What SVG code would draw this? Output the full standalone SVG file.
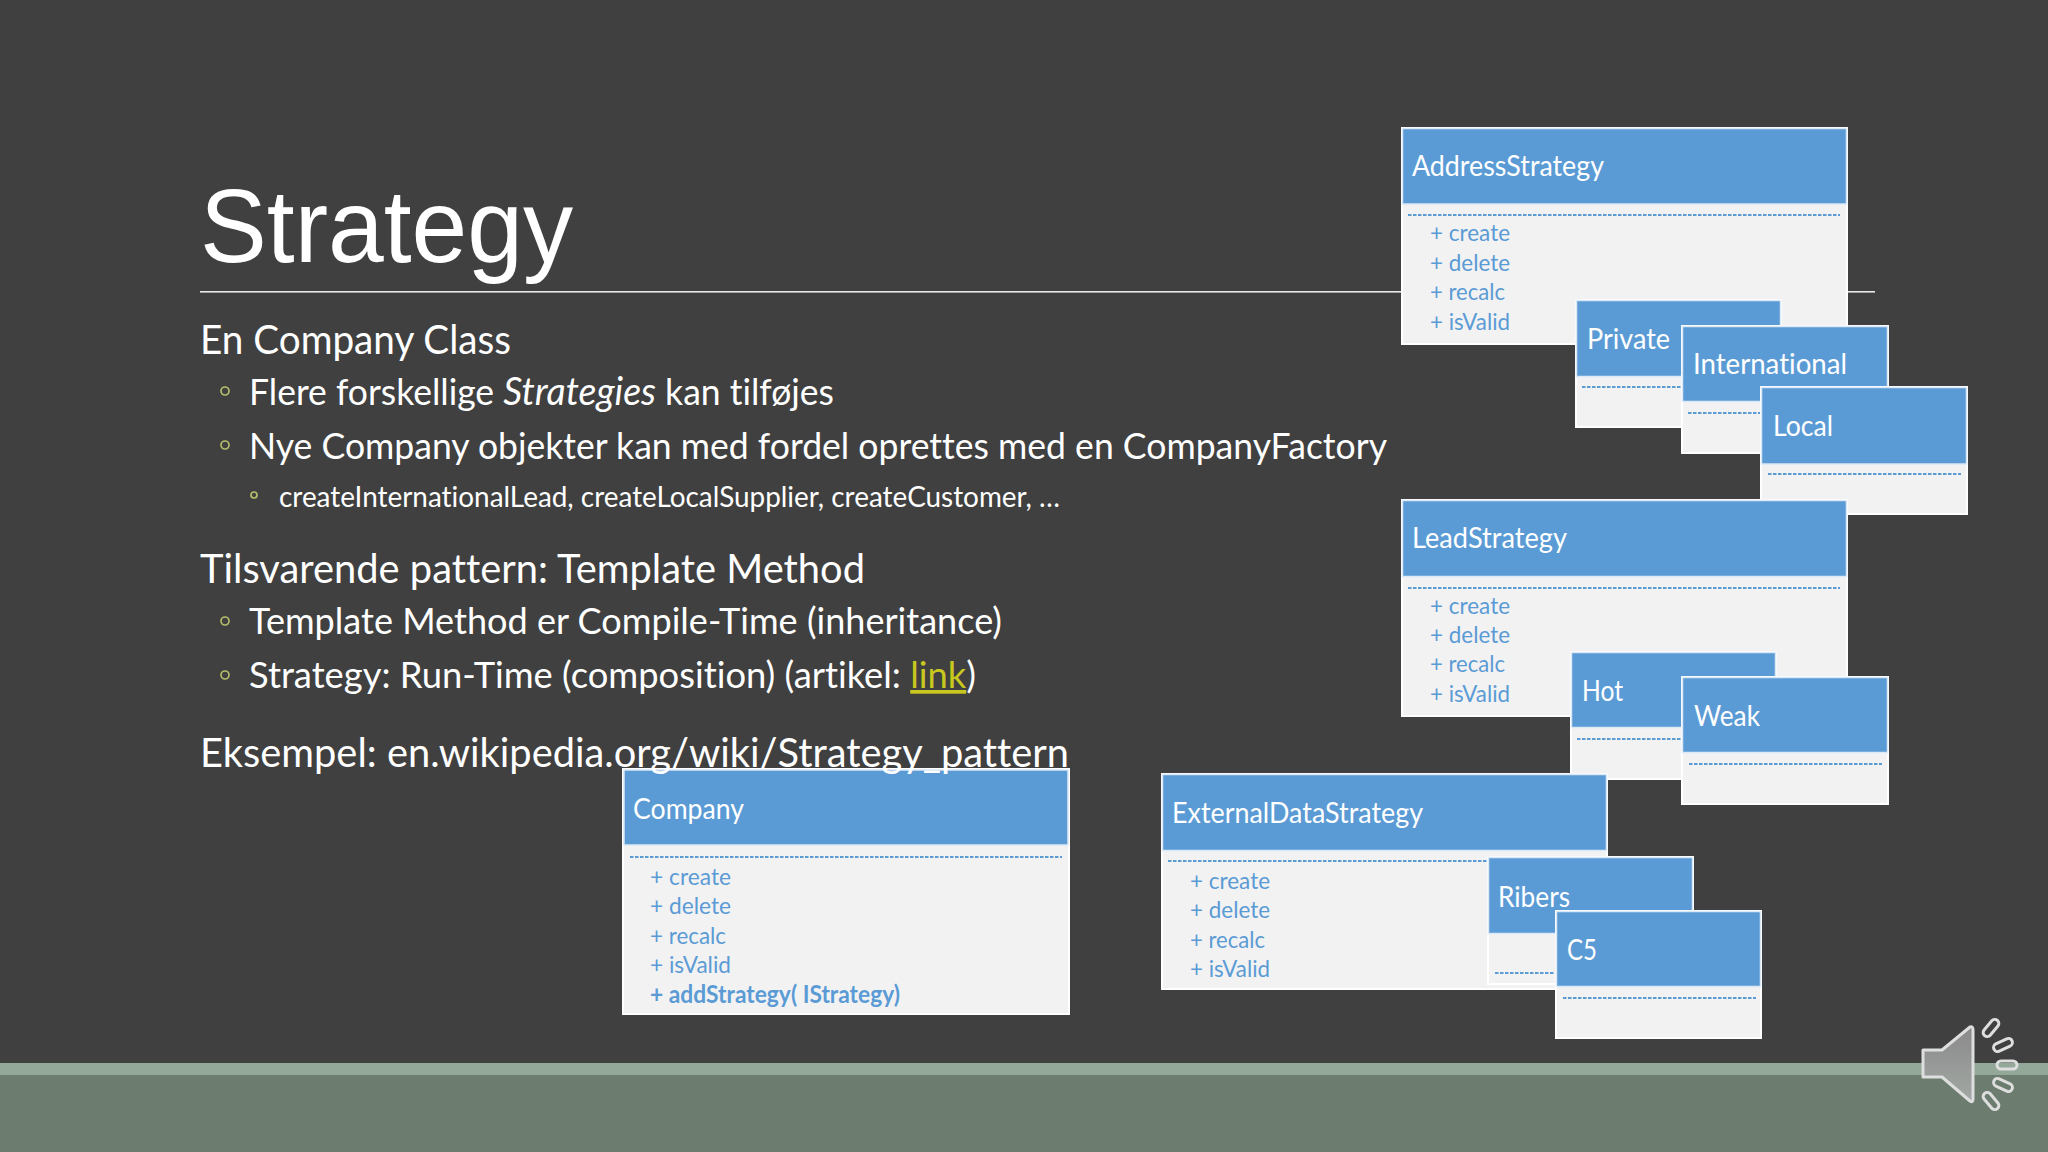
<svg xmlns="http://www.w3.org/2000/svg" width="2048" height="1152" viewBox="0 0 2048 1152">
<style>
text{font-family:Lato,Carlito,"Open Sans",sans-serif;font-variant-ligatures:none}
.b{fill:#f2f2f3;stroke:#fff;stroke-width:2}
.h{fill:#5b9bd5;stroke:#dbe8f5;stroke-width:1.5}
.d{stroke:#5b9bd5;stroke-width:2;stroke-dasharray:3.5 1.5;fill:none}
.t{fill:#fff;font-size:28px}
.m{fill:#5b9bd5;font-size:24px}
.l1{fill:#fff;font-size:40px}
.l2{fill:#fff;font-size:37px}
.l3{fill:#fff;font-size:29px}
.o{fill:none;stroke:#b5bd6a;stroke-width:1.7}
.s{fill:none;stroke:#dedede;stroke-width:3}
</style>
<defs>
<linearGradient id="sp" x1="0" y1="0" x2="0" y2="1"><stop offset="0" stop-color="#8a8a8a"/><stop offset="1" stop-color="#a2a8a4"/></linearGradient>
</defs>
<rect width="2048" height="1152" fill="#404040"/>
<rect y="1063" width="2048" height="12" fill="#93a899"/>
<rect y="1075" width="2048" height="77" fill="#6c7d70"/>

<text x="200" y="262" style="font-family:'Liberation Sans',Arial,sans-serif;font-size:103px" textLength="373" lengthAdjust="spacingAndGlyphs" fill="#fff">Strategy</text>
<rect x="200" y="291" width="1675" height="1.6" fill="#e8e8e8"/>

<g id="bullets">
<text class="l1" x="200" y="354" textLength="311" lengthAdjust="spacingAndGlyphs">En Company Class</text>
<circle class="o" cx="225" cy="391" r="4"/>
<text class="l2" x="249" y="405" textLength="585" lengthAdjust="spacingAndGlyphs">Flere forskellige <tspan font-style="italic" font-size="39">Strategies</tspan> kan tilføjes</text>
<circle class="o" cx="225" cy="445" r="4"/>
<text class="l2" x="249" y="459" textLength="1138" lengthAdjust="spacingAndGlyphs">Nye Company objekter kan med fordel oprettes med en CompanyFactory</text>
<circle class="o" cx="254" cy="495" r="3"/>
<text class="l3" x="279" y="507" textLength="781" lengthAdjust="spacingAndGlyphs">createInternationalLead, createLocalSupplier, createCustomer, …</text>
<text class="l1" x="200" y="583" textLength="665" lengthAdjust="spacingAndGlyphs">Tilsvarende pattern: Template Method</text>
<circle class="o" cx="225" cy="621" r="4"/>
<text class="l2" x="249" y="634" textLength="753" lengthAdjust="spacingAndGlyphs">Template Method er Compile-Time (inheritance)</text>
<circle class="o" cx="225" cy="675" r="4"/>
<text class="l2" x="249" y="688" textLength="727" lengthAdjust="spacingAndGlyphs">Strategy: Run-Time (composition) (artikel: <tspan fill="#c8c81e" text-decoration="underline">link</tspan>)</text>
</g>

<g id="company">
<rect class="b" x="623" y="769" width="446" height="245"/>
<rect class="h" x="624" y="770" width="444" height="75"/>
<line class="d" x1="630" y1="857" x2="1062" y2="857"/>
<text class="t" x="633" y="819" textLength="111" lengthAdjust="spacingAndGlyphs">Company</text>
<text class="m" x="650" y="885" textLength="81" lengthAdjust="spacingAndGlyphs">+ create</text>
<text class="m" x="650" y="914" textLength="81" lengthAdjust="spacingAndGlyphs">+ delete</text>
<text class="m" x="650" y="944" textLength="76" lengthAdjust="spacingAndGlyphs">+ recalc</text>
<text class="m" x="650" y="973" textLength="81" lengthAdjust="spacingAndGlyphs">+ isValid</text>
<text class="m" x="650" y="1003" font-weight="700" textLength="250" lengthAdjust="spacingAndGlyphs">+ addStrategy( IStrategy)</text>
</g>
<text class="l1" x="200" y="767" textLength="869" lengthAdjust="spacingAndGlyphs">Eksempel: en.wikipedia.org/wiki/Strategy_pattern</text>

<g id="address-strategy">
<rect class="b" x="1402" y="128" width="445" height="216"/>
<rect class="h" x="1402.500" y="128.500" width="444" height="75.500"/>
<line class="d" x1="1408" y1="215" x2="1840" y2="215"/>
<text class="t" x="1412" y="176" textLength="192" lengthAdjust="spacingAndGlyphs">AddressStrategy</text>
<text class="m" x="1430" y="241" textLength="80" lengthAdjust="spacingAndGlyphs">+ create</text>
<text class="m" x="1430" y="271" textLength="80" lengthAdjust="spacingAndGlyphs">+ delete</text>
<text class="m" x="1430" y="300" textLength="75" lengthAdjust="spacingAndGlyphs">+ recalc</text>
<text class="m" x="1430" y="330" textLength="80" lengthAdjust="spacingAndGlyphs">+ isValid</text>
</g>
<g id="private">
<rect class="b" x="1576" y="300" width="205" height="127"/>
<rect class="h" x="1576.500" y="300.500" width="204" height="76"/>
<line class="d" x1="1582" y1="387" x2="1775" y2="387"/>
<text class="t" x="1587" y="349" textLength="83" lengthAdjust="spacingAndGlyphs">Private</text>
</g>
<g id="international">
<rect class="b" x="1682" y="326" width="206" height="127"/>
<rect class="h" x="1682.500" y="326.500" width="205" height="75"/>
<line class="d" x1="1688" y1="413" x2="1881" y2="413"/>
<text class="t" x="1693" y="374" textLength="154" lengthAdjust="spacingAndGlyphs">International</text>
</g>
<g id="local">
<rect class="b" x="1761" y="387" width="206" height="127"/>
<rect class="h" x="1761.500" y="387.500" width="205" height="76.500"/>
<line class="d" x1="1768" y1="474" x2="1961" y2="474"/>
<text class="t" x="1773" y="436" textLength="60" lengthAdjust="spacingAndGlyphs">Local</text>
</g>

<g id="lead-strategy">
<rect class="b" x="1402" y="500" width="445" height="216"/>
<rect class="h" x="1402.500" y="500.500" width="444" height="76"/>
<line class="d" x1="1408" y1="588" x2="1840" y2="588"/>
<text class="t" x="1412" y="548" textLength="155" lengthAdjust="spacingAndGlyphs">LeadStrategy</text>
<text class="m" x="1430" y="614" textLength="80" lengthAdjust="spacingAndGlyphs">+ create</text>
<text class="m" x="1430" y="643" textLength="80" lengthAdjust="spacingAndGlyphs">+ delete</text>
<text class="m" x="1430" y="672" textLength="75" lengthAdjust="spacingAndGlyphs">+ recalc</text>
<text class="m" x="1430" y="702" textLength="80" lengthAdjust="spacingAndGlyphs">+ isValid</text>
</g>
<g id="hot">
<rect class="b" x="1571" y="652" width="205" height="127"/>
<rect class="h" x="1571.500" y="652.500" width="204" height="75"/>
<line class="d" x1="1577" y1="739" x2="1770" y2="739"/>
<text class="t" x="1582" y="701" textLength="41" lengthAdjust="spacingAndGlyphs">Hot</text>
</g>
<g id="weak">
<rect class="b" x="1682" y="677" width="206" height="127"/>
<rect class="h" x="1682.500" y="677.500" width="205" height="75"/>
<line class="d" x1="1689" y1="764" x2="1882" y2="764"/>
<text class="t" x="1694" y="726" textLength="66" lengthAdjust="spacingAndGlyphs">Weak</text>
</g>

<g id="external-data-strategy">
<rect class="b" x="1162" y="774" width="445" height="215"/>
<rect class="h" x="1162.500" y="774.500" width="444" height="76"/>
<line class="d" x1="1168" y1="861" x2="1600" y2="861"/>
<text class="t" x="1172" y="823" textLength="251" lengthAdjust="spacingAndGlyphs">ExternalDataStrategy</text>
<text class="m" x="1190" y="889" textLength="80" lengthAdjust="spacingAndGlyphs">+ create</text>
<text class="m" x="1190" y="918" textLength="80" lengthAdjust="spacingAndGlyphs">+ delete</text>
<text class="m" x="1190" y="948" textLength="75" lengthAdjust="spacingAndGlyphs">+ recalc</text>
<text class="m" x="1190" y="977" textLength="80" lengthAdjust="spacingAndGlyphs">+ isValid</text>
</g>
<g id="ribers">
<rect class="b" x="1488" y="857" width="205" height="127"/>
<rect class="h" x="1488.500" y="857.500" width="204" height="76"/>
<line class="d" x1="1495" y1="973" x2="1688" y2="973"/>
<text class="t" x="1498" y="907" textLength="72" lengthAdjust="spacingAndGlyphs">Ribers</text>
</g>
<g id="c5">
<rect class="b" x="1556" y="911" width="205" height="127"/>
<rect class="h" x="1556.500" y="911.500" width="204" height="75"/>
<line class="d" x1="1563" y1="998" x2="1756" y2="998"/>
<text class="t" x="1567" y="960" textLength="30" lengthAdjust="spacingAndGlyphs">C5</text>
</g>

<g id="speaker">
<path d="M1923 1050H1942L1970 1027Q1973 1026 1973 1030V1099Q1973 1103 1970 1101L1942 1077H1923Z" fill="url(#sp)" stroke="#dedede" stroke-width="3" stroke-linejoin="round"/>
<rect class="s" x="-10" y="-4" width="20" height="8" rx="4" transform="translate(1991 1028) rotate(-50)"/>
<rect class="s" x="-10" y="-4" width="20" height="8" rx="4" transform="translate(2003 1045) rotate(-25)"/>
<rect class="s" x="-10" y="-4" width="20" height="8" rx="4" transform="translate(2007 1065)"/>
<rect class="s" x="-10" y="-4" width="20" height="8" rx="4" transform="translate(2003 1085) rotate(25)"/>
<rect class="s" x="-10" y="-4" width="20" height="8" rx="4" transform="translate(1991 1101) rotate(50)"/>
</g>
</svg>
